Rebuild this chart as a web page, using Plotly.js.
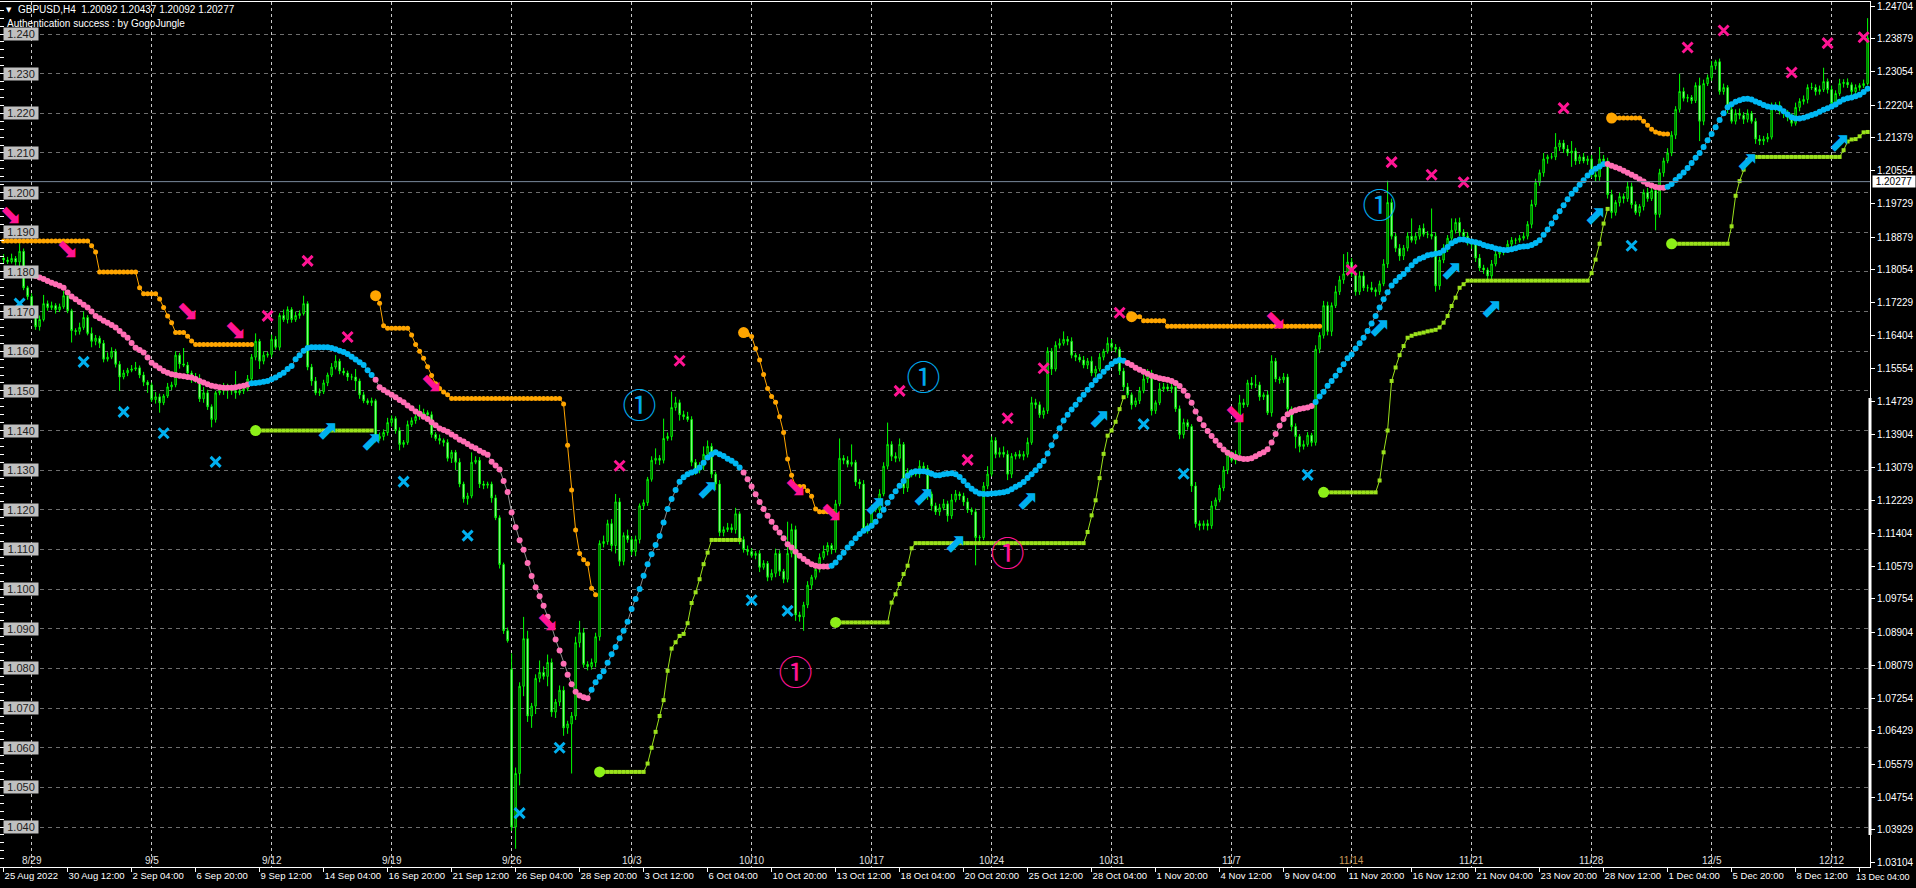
<!DOCTYPE html>
<html><head><meta charset="utf-8">
<script src="https://cdn.plot.ly/plotly-3.0.1.min.js"></script>
<style>html,body{margin:0;padding:0;background:#000;overflow:hidden}#chart{width:1916px;height:888px}</style>
</head><body><div id="chart"></div>
<script>
const FONT = 'Liberation Sans, Arial, sans-serif';
const PIP = 0.0001;

// ---- price bars (H4), index 0 = 25 Aug 2022 20:00 ----
const firstOpen = 1.1835;
const gapOpens = {127: 1.0798};
const barClose = [
1.1830,1.1826,1.1834,1.1825,1.1852,1.1760,1.1738,1.1705,1.1662,1.1680,
1.1720,1.1710,1.1715,1.1705,1.1712,1.1740,1.1702,1.1652,1.1650,1.1660,
1.1685,1.1645,1.1625,1.1633,1.1620,1.1580,1.1585,1.1600,1.1567,1.1535,
1.1545,1.1552,1.1555,1.1558,1.1540,1.1522,1.1515,1.1478,1.1485,1.1470,
1.1487,1.1510,1.1515,1.1590,1.1568,1.1565,1.1545,1.1535,1.1530,1.1480,
1.1495,1.1460,1.1428,1.1495,1.1500,1.1505,1.1510,1.1500,1.1495,1.1500,
1.1505,1.1530,1.1585,1.1625,1.1575,1.1590,1.1592,1.1630,1.1610,1.1690,
1.1680,1.1705,1.1680,1.1690,1.1695,1.1720,1.1560,1.1525,1.1495,1.1498,
1.1520,1.1540,1.1560,1.1575,1.1550,1.1545,1.1535,1.1535,1.1525,1.1490,
1.1475,1.1470,1.1475,1.1380,1.1385,1.1395,1.1420,1.1430,1.1400,1.1365,
1.1370,1.1415,1.1425,1.1435,1.1440,1.1445,1.1440,1.1390,1.1380,1.1375,
1.1370,1.1330,1.1345,1.1320,1.1265,1.1228,1.1235,1.1320,1.1325,1.1265,
1.1262,1.1265,1.1230,1.1180,1.1062,1.0895,1.0870,1.0400,1.0535,1.0755,
1.0875,1.0680,1.0705,1.0775,1.0790,1.0780,1.0815,1.0690,1.0715,1.0745,
1.0650,1.0660,1.0680,1.0865,1.0890,1.0810,1.0805,1.0815,1.0880,1.1115,
1.1120,1.1165,1.1110,1.1220,1.1070,1.1135,1.1125,1.1095,1.1125,1.1210,
1.1218,1.1277,1.1325,1.1330,1.1325,1.1380,1.1385,1.1458,1.1470,1.1440,
1.1435,1.1428,1.1320,1.1300,1.1310,1.1340,1.1360,1.1290,1.1265,1.1143,
1.1150,1.1155,1.1150,1.1190,1.1125,1.1100,1.1095,1.1085,1.1090,1.1055,
1.1065,1.1030,1.1040,1.1090,1.1045,1.1025,1.1090,1.1150,1.0935,1.0930,
1.0960,1.1010,1.1030,1.1050,1.1080,1.1095,1.1110,1.1100,1.1215,1.1330,
1.1325,1.1315,1.1320,1.1270,1.1265,1.1150,1.1160,1.1205,1.1200,1.1240,
1.1310,1.1365,1.1335,1.1330,1.1365,1.1255,1.1295,1.1290,1.1290,1.1310,
1.1305,1.1240,1.1210,1.1195,1.1205,1.1215,1.1185,1.1225,1.1240,1.1235,
1.1220,1.1200,1.1195,1.1130,1.1130,1.1260,1.1290,1.1375,1.1340,1.1345,
1.1340,1.1290,1.1335,1.1340,1.1335,1.1340,1.1370,1.1470,1.1465,1.1440,
1.1450,1.1600,1.1555,1.1615,1.1620,1.1630,1.1625,1.1590,1.1585,1.1578,
1.1565,1.1575,1.1545,1.1555,1.1585,1.1600,1.1620,1.1610,1.1605,1.1550,
1.1510,1.1490,1.1465,1.1475,1.1500,1.1530,1.1545,1.1450,1.1470,1.1505,
1.1510,1.1505,1.1510,1.1455,1.1390,1.1420,1.1410,1.1260,1.1165,1.1160,
1.1165,1.1160,1.1210,1.1225,1.1255,1.1300,1.1340,1.1325,1.1340,1.1470,
1.1465,1.1520,1.1515,1.1515,1.1485,1.1490,1.1445,1.1575,1.1530,1.1528,
1.1535,1.1455,1.1410,1.1385,1.1360,1.1365,1.1388,1.1370,1.1605,1.1640,
1.1715,1.1650,1.1715,1.1750,1.1780,1.1795,1.1825,1.1795,1.1750,1.1790,
1.1760,1.1760,1.1755,1.1750,1.1770,1.1820,1.1975,1.1890,1.1860,1.1840,
1.1860,1.1890,1.1880,1.1890,1.1910,1.1895,1.1895,1.1890,1.1765,1.1830,
1.1860,1.1885,1.1905,1.1925,1.1900,1.1890,1.1875,1.1870,1.1835,1.1810,
1.1805,1.1790,1.1820,1.1845,1.1850,1.1855,1.1870,1.1880,1.1880,1.1885,
1.1890,1.1920,1.1970,1.2025,1.2050,1.2085,1.2090,1.2090,1.2115,1.2125,
1.2110,1.2100,1.2105,1.2080,1.2090,1.2080,1.2085,1.2045,1.2040,1.2085,
1.2080,1.1995,1.1950,1.1975,1.1990,1.1985,1.2015,1.1970,1.1950,1.1965,
1.2000,1.1985,1.2005,1.1945,1.2050,1.2080,1.2100,1.2145,1.2210,1.2255,
1.2238,1.2240,1.2232,1.2270,1.2180,1.2275,1.2290,1.2320,1.2330,1.2255,
1.2265,1.2210,1.2180,1.2200,1.2195,1.2185,1.2200,1.2180,1.2135,1.2130,
1.2135,1.2140,1.2215,1.2220,1.2205,1.2200,1.2190,1.2175,1.2215,1.2230,
1.2235,1.2265,1.2265,1.2255,1.2260,1.2280,1.2260,1.2225,1.2250,1.2275,
1.2278,1.2272,1.2255,1.2265,1.2270,1.2275,1.2390];
// upper / lower wick length in pips
const wickUp = [
10,8,12,6,20,7,5,8,6,10, 22,8,10,6,8,12,6,5,6,12, 15,6,15,8,6,8,12,10,6,8, 8,6,10,15,6,8,5,6,12,8,
5,10,8,10,6,40,8,6,10,12, 15,8,6,5,10,15,8,6,50,8, 6,10,8,20,6,10,6,12,8,6, 15,8,6,10,8,20,6,8,10,8,
8,6,10,15,6,8,6,8,20,6, 8,6,8,5,10,8,12,8,6,8, 6,10,8,6,25,10,6,8,6,10, 5,8,6,6,10,6,8,25,10,8,
8,6,6,8,6,5,8,40,15,10, 55,20,8,10,30,15,20,10,8,12, 10,8,10,15,30,12,8,10,10,8, 15,10,12,20,10,8,15,8,10,6,
8,6,10,25,8,50,10,40,15,8, 10,12,8,8,10,20,15,8,6,10, 8,12,10,15,6,8,10,8,6,8, 8,6,10,12,8,6,80,15,10,8,
8,10,6,8,10,15,8,6,10,50, 8,10,45,6,8,10,6,8,10,12, 10,55,8,10,15,6,10,8,12,15, 10,8,6,8,10,12,8,15,10,6,
8,10,6,8,6,10,20,10,8,12, 15,10,8,6,10,8,12,15,10,8, 8,10,8,10,12,20,8,10,6,8, 10,8,12,8,10,6,15,10,8,6,
8,10,6,8,10,12,10,8,6,15, 10,8,12,6,8,10,8,6,10,8, 8,10,12,6,8,10,12,8,10,20, 10,8,15,25,8,6,10,15,8,6,
10,8,6,8,6,10,8,6,10,8, 12,10,8,15,10,50,25,10,8,12, 10,8,15,6,8,12,55,10,8,10, 8,10,45,10,8,12,8,65,10,8,
10,8,30,10,12,8,10,6,8,10, 8,6,10,8,12,6,10,8,6,8, 10,8,12,10,8,15,6,10,35,8, 8,10,25,8,6,10,8,10,8,30,
10,8,12,6,10,8,12,10,8,6, 8,12,10,15,10,8,12,10,8,45, 10,8,6,8,20,10,8,12,5,8, 10,6,8,10,12,8,10,6,8,10,
8,10,12,8,10,6,8,10,12,8, 10,8,12,8,10,35,8,10,8,12, 8,10,6,8,6,10,50];
const wickDown = [
8,6,5,9,10,6,8,10,8,10, 5,8,6,10,6,5,6,30,10,8, 6,5,15,10,12,8,6,5,8,35, 6,8,5,5,8,10,20,6,10,25,
6,5,8,6,12,5,6,15,10,8, 10,8,20,8,6,10,25,10,15,6, 8,6,10,8,20,8,6,8,6,8, 6,10,8,6,8,5,8,12,6,8,
6,8,5,6,8,6,10,8,25,10, 6,5,8,10,6,10,8,10,8,15, 8,6,6,8,8,6,12,8,6,10, 10,8,12,20,8,10,15,6,5,10,
10,8,12,6,10,8,5,10,55,30, 25,15,30,20,10,8,25,12,15,10, 20,15,125,10,12,8,10,8,12,10, 10,8,15,20,12,10,8,10,12,10,
10,8,6,10,12,8,6,10,8,15, 8,6,10,12,8,10,12,10,15,10, 10,6,8,10,12,8,10,6,10,12, 6,10,8,10,12,10,8,10,15,12,
35,8,10,6,8,6,10,12,8,6, 10,8,6,10,12,6,10,8,6,10, 6,8,12,10,8,15,10,8,6,10, 10,15,12,8,10,6,15,8,6,10,
10,8,8,70,15,6,8,6,10,8, 8,15,10,8,6,10,8,6,10,8, 10,8,15,6,8,6,10,8,10,6, 8,10,8,10,6,8,6,10,8,10,
10,8,12,6,8,6,10,12,8,6, 8,6,10,8,12,10,8,15,10,12, 10,12,8,10,6,8,10,6,10,8, 8,6,10,8,10,8,6,10,8,10,
8,10,12,30,15,8,6,10,8,10, 8,10,12,6,8,10,6,8,10,8, 8,10,6,12,8,6,10,8,10,12, 10,8,6,10,8,6,10,8,15,10,
8,10,6,8,10,6,8,12,10,8, 10,12,8,6,10,8,6,8,10,6, 6,8,10,6,8,10,12,6,8,10, 10,8,35,10,8,6,10,8,12,10,
8,10,15,8,10,12,8,10,6,10, 10,8,6,40,8,10,6,8,10,8, 8,10,8,6,50,10,6,8,10,8, 8,10,6,8,10,12,8,6,12,10,
10,8,6,10,8,12,10,8,6,10, 8,10,6,10,8,6,10,12,8,6, 10,8,10,6,8,6,5];

// ---- dotted moving average (pink falling / blue rising) ----
const maStart = 8;
const maValues = [
1.1790,1.1786,1.1782,1.1777,1.1773,1.1769,1.1765,1.1760,1.1748,1.1738,
1.1731,1.1724,1.1717,1.1710,1.1700,1.1689,1.1683,1.1677,1.1672,1.1666,
1.1660,1.1651,1.1642,1.1634,1.1621,1.1609,1.1603,1.1597,1.1584,1.1571,
1.1564,1.1557,1.1550,1.1546,1.1542,1.1540,1.1538,1.1537,1.1535,1.1534,
1.1530,1.1525,1.1521,1.1517,1.1513,1.1511,1.1509,1.1508,1.1508,1.1508,
1.1509,1.1511,1.1513,1.1516,1.1519,1.1520,1.1521,1.1523,1.1525,1.1529,
1.1534,1.1540,1.1546,1.1555,1.1563,1.1580,1.1590,1.1601,1.1608,1.1610,
1.1610,1.1610,1.1610,1.1610,1.1608,1.1605,1.1601,1.1598,1.1593,1.1586,
1.1579,1.1572,1.1565,1.1552,1.1540,1.1528,1.1509,1.1502,1.1496,1.1490,
1.1484,1.1477,1.1471,1.1463,1.1456,1.1448,1.1442,1.1435,1.1429,1.1421,
1.1413,1.1405,1.1401,1.1397,1.1390,1.1384,1.1377,1.1372,1.1366,1.1360,
1.1355,1.1349,1.1344,1.1339,1.1321,1.1312,1.1302,1.1273,1.1245,1.1193,
1.1156,1.1123,1.1099,1.1066,1.1033,1.1005,1.0982,1.0958,1.0930,1.0906,
1.0873,1.0845,1.0812,1.0784,1.0760,1.0741,1.0732,1.0727,1.0725,1.0746,
1.0765,1.0779,1.0793,1.0814,1.0836,1.0854,1.0876,1.0895,1.0918,1.0950,
1.0975,1.1000,1.1034,1.1063,1.1088,1.1111,1.1134,1.1168,1.1202,1.1227,
1.1250,1.1271,1.1282,1.1290,1.1294,1.1298,1.1307,1.1319,1.1332,1.1340,
1.1345,1.1340,1.1336,1.1329,1.1324,1.1317,1.1307,1.1294,1.1277,1.1259,
1.1239,1.1220,1.1202,1.1185,1.1170,1.1155,1.1143,1.1128,1.1113,1.1105,
1.1094,1.1084,1.1076,1.1069,1.1063,1.1059,1.1057,1.1057,1.1057,1.1059,
1.1067,1.1080,1.1092,1.1105,1.1116,1.1128,1.1139,1.1147,1.1153,1.1160,
1.1170,1.1185,1.1200,1.1218,1.1233,1.1247,1.1261,1.1273,1.1286,1.1294,
1.1297,1.1297,1.1297,1.1295,1.1291,1.1287,1.1287,1.1290,1.1291,1.1292,
1.1290,1.1283,1.1273,1.1262,1.1253,1.1246,1.1241,1.1240,1.1240,1.1241,
1.1242,1.1243,1.1244,1.1247,1.1252,1.1258,1.1263,1.1270,1.1280,1.1290,
1.1300,1.1311,1.1323,1.1342,1.1363,1.1385,1.1406,1.1425,1.1440,1.1453,
1.1465,1.1478,1.1490,1.1503,1.1515,1.1527,1.1537,1.1548,1.1558,1.1568,
1.1575,1.1578,1.1576,1.1570,1.1565,1.1558,1.1553,1.1548,1.1543,1.1538,
1.1535,1.1532,1.1530,1.1528,1.1525,1.1520,1.1512,1.1500,1.1488,1.1470,
1.1448,1.1429,1.1413,1.1399,1.1386,1.1374,1.1363,1.1352,1.1344,1.1338,
1.1333,1.1330,1.1328,1.1328,1.1330,1.1335,1.1341,1.1345,1.1353,1.1370,
1.1391,1.1412,1.1429,1.1441,1.1447,1.1451,1.1454,1.1456,1.1458,1.1462,
1.1472,1.1486,1.1498,1.1513,1.1525,1.1538,1.1552,1.1567,1.1582,1.1592,
1.1607,1.1620,1.1634,1.1651,1.1670,1.1689,1.1710,1.1731,1.1749,1.1766,
1.1777,1.1787,1.1795,1.1806,1.1817,1.1827,1.1833,1.1837,1.1842,1.1844,
1.1846,1.1848,1.1854,1.1863,1.1872,1.1878,1.1882,1.1882,1.1879,1.1877,
1.1875,1.1872,1.1868,1.1865,1.1863,1.1859,1.1857,1.1855,1.1855,1.1857,
1.1860,1.1863,1.1864,1.1865,1.1868,1.1873,1.1880,1.1894,1.1907,1.1922,
1.1938,1.1953,1.1968,1.1983,1.1997,1.2008,1.2020,1.2031,1.2043,1.2052,
1.2060,1.2066,1.2072,1.2072,1.2068,1.2064,1.2060,1.2055,1.2050,1.2045,
1.2040,1.2034,1.2028,1.2022,1.2018,1.2014,1.2012,1.2012,1.2015,1.2022,
1.2032,1.2041,1.2051,1.2062,1.2075,1.2088,1.2100,1.2115,1.2132,1.2148,
1.2165,1.2183,1.2200,1.2215,1.2223,1.2229,1.2233,1.2236,1.2237,1.2235,
1.2230,1.2226,1.2221,1.2217,1.2215,1.2215,1.2213,1.2205,1.2197,1.2190,
1.2187,1.2187,1.2189,1.2192,1.2196,1.2199,1.2204,1.2209,1.2213,1.2217,
1.2222,1.2229,1.2235,1.2238,1.2240,1.2243,1.2247,1.2254,1.2262];
const maColorRuns = [[8,'pink'],[62,'blue'],[93,'pink'],[147,'blue'],[185,'pink'],[207,'blue'],[281,'pink'],[328,'blue'],[401,'pink'],[416,'blue']];

// ---- orange trailing line (sell side) ----
const orangeSegStart = [0, 93, 185, 282, 402];
const orangeSegVals = [
 [1.1878,1.1878,1.1878,1.1878,1.1878,1.1878,1.1878,1.1878,1.1878,1.1878,
  1.1878,1.1878,1.1878,1.1878,1.1878,1.1878,1.1878,1.1878,1.1878,1.1878,
  1.1878,1.1878,1.1866,1.1850,1.1800,1.1800,1.1800,1.1800,1.1800,1.1800,
  1.1800,1.1800,1.1800,1.1800,1.1760,1.1745,1.1745,1.1745,1.1745,1.1732,
  1.1710,1.1689,1.1672,1.1647,1.1647,1.1647,1.1638,1.1626,1.1617,1.1617,
  1.1617,1.1617,1.1617,1.1617,1.1617,1.1617,1.1617,1.1617,1.1617,1.1617,
  1.1617,1.1617,1.1617],
 [1.1740,1.1721,1.1664,1.1658,1.1658,1.1658,1.1658,1.1658,1.1658,1.1641,
  1.1617,1.1600,1.1582,1.1561,1.1539,1.1518,1.1506,1.1497,1.1490,1.1481,
  1.1481,1.1481,1.1481,1.1481,1.1481,1.1481,1.1481,1.1481,1.1481,1.1481,
  1.1481,1.1481,1.1481,1.1481,1.1481,1.1481,1.1481,1.1481,1.1481,1.1481,
  1.1481,1.1481,1.1481,1.1481,1.1481,1.1481,1.1481,1.1467,1.1363,1.1250,
  1.1149,1.1090,1.1074,1.1064,1.1002,1.0986],
 [1.1647,1.1642,1.1637,1.1607,1.1578,1.1541,1.1506,1.1486,1.1471,1.1435,
  1.1395,1.1328,1.1287,1.1259,1.1259,1.1259,1.1248,1.1234,1.1202,1.1195,
  1.1195,1.1195,1.1195],
 [1.1687,1.1687,1.1687,1.1677,1.1677,1.1677,1.1677,1.1677,1.1677,1.1663,
  1.1663,1.1663,1.1663,1.1663,1.1663,1.1663,1.1663,1.1663,1.1663,1.1663,
  1.1663,1.1663,1.1663,1.1663,1.1663,1.1663,1.1663,1.1663,1.1663,1.1663,
  1.1663,1.1663,1.1663,1.1663,1.1663,1.1663,1.1663,1.1663,1.1663,1.1663,
  1.1663,1.1663,1.1663,1.1663,1.1663,1.1663,1.1663,1.1663],
 [1.2188,1.2188,1.2188,1.2188,1.2188,1.2188,1.2188,1.2188,1.2180,1.2170,
  1.2160,1.2153,1.2150,1.2148,1.2148]
];
// ---- green trailing line (buy side) ----
const greenSegStart = [63, 149, 208, 330, 417];
const greenSegVals = [
 [1.1400,1.1400,1.1400,1.1400,1.1400,1.1400,1.1400,1.1400,1.1400,1.1400,
  1.1400,1.1400,1.1400,1.1400,1.1400,1.1400,1.1400,1.1400,1.1400,1.1400,
  1.1400,1.1400,1.1400,1.1400,1.1400,1.1400,1.1400,1.1400,1.1400,1.1400],
 [1.0539,1.0539,1.0539,1.0539,1.0539,1.0539,1.0539,1.0539,1.0539,1.0539,
  1.0539,1.0539,1.0560,1.0600,1.0640,1.0680,1.0720,1.0794,1.0850,1.0866,
  1.0882,1.0887,1.0914,1.0965,1.0992,1.1025,1.1063,1.1092,1.1124,1.1124,
  1.1124,1.1124,1.1124,1.1124,1.1124,1.1124],
 [1.0916,1.0916,1.0916,1.0916,1.0916,1.0916,1.0916,1.0916,1.0916,1.0916,
  1.0916,1.0916,1.0916,1.0916,1.0966,1.0987,1.1013,1.1038,1.1059,1.1103,
  1.1116,1.1116,1.1116,1.1116,1.1116,1.1116,1.1116,1.1116,1.1116,1.1116,
  1.1116,1.1116,1.1116,1.1116,1.1116,1.1116,1.1116,1.1116,1.1116,1.1116,
  1.1116,1.1116,1.1116,1.1116,1.1116,1.1116,1.1116,1.1116,1.1116,1.1116,
  1.1116,1.1116,1.1116,1.1116,1.1116,1.1116,1.1116,1.1116,1.1116,1.1116,
  1.1116,1.1116,1.1116,1.1144,1.1186,1.1224,1.1280,1.1341,1.1387,1.1400,
  1.1422,1.1454,1.1484],
 [1.1244,1.1244,1.1244,1.1244,1.1244,1.1244,1.1244,1.1244,1.1244,1.1244,
  1.1244,1.1244,1.1244,1.1244,1.1274,1.1345,1.1400,1.1525,1.1559,1.1590,
  1.1613,1.1634,1.1639,1.1643,1.1645,1.1647,1.1650,1.1652,1.1654,1.1660,
  1.1672,1.1689,1.1714,1.1735,1.1760,1.1769,1.1778,1.1778,1.1778,1.1778,
  1.1778,1.1778,1.1778,1.1778,1.1778,1.1778,1.1778,1.1778,1.1778,1.1778,
  1.1778,1.1778,1.1778,1.1778,1.1778,1.1778,1.1778,1.1778,1.1778,1.1778,
  1.1778,1.1778,1.1778,1.1778,1.1778,1.1778,1.1778,1.1797,1.1831,1.1871,
  1.1922,1.1959],
 [1.1871,1.1871,1.1871,1.1871,1.1871,1.1871,1.1871,1.1871,1.1871,1.1871,
  1.1871,1.1871,1.1871,1.1871,1.1871,1.1915,1.1992,1.2029,1.2058,1.2083,
  1.2090,1.2090,1.2090,1.2090,1.2090,1.2090,1.2090,1.2090,1.2090,1.2090,
  1.2090,1.2090,1.2090,1.2090,1.2090,1.2090,1.2090,1.2090,1.2090,1.2090,
  1.2090,1.2090,1.2090,1.2107,1.2129,1.2134,1.2135,1.2142,1.2152,1.2153]
];

// ---- signals ----
const pinkArrowX = [1.8, 16, 46, 58, 107, 136, 198, 207, 308, 318];
const pinkArrowY = [1.1938, 1.1853, 1.1697, 1.1647, 1.1514, 1.0911, 1.1252, 1.1189, 1.1435, 1.1672];
const blueArrowX = [81, 92, 176, 218, 230, 238, 256, 274, 344, 362, 372, 398, 436, 459];
const blueArrowY = [1.1395, 1.1368, 1.1246, 1.1207, 1.1230, 1.1110, 1.1219, 1.1425, 1.1656, 1.1798, 1.1704, 1.1939, 1.2074, 1.2123];
const blueCrossX = [4, 20, 30, 40, 53, 100, 116, 129, 139, 187, 196, 285, 295, 326, 407];
const blueCrossY = [1.1720, 1.1573, 1.1447, 1.1393, 1.1321, 1.1271, 1.1135, 1.0435, 1.0600, 1.0972, 1.0945, 1.1416, 1.1291, 1.1288, 1.1866];
const pinkCrossX = [66, 76, 86, 154, 169, 224, 241, 251, 260, 279, 337, 347, 357, 365, 390, 421, 430, 447, 456, 465];
const pinkCrossY = [1.1689, 1.1828, 1.1636, 1.1311, 1.1576, 1.1500, 1.1326, 1.1431, 1.1557, 1.1697, 1.1805, 1.2077, 1.2045, 1.2026, 1.2213, 1.2366, 1.2409, 1.2303, 1.2377, 1.2392];
const circleX = [159, 230, 344, 198, 251];
const circleY = [1.1454, 1.1523, 1.1958, 1.0779, 1.1080];
const circleKind = ['blue', 'blue', 'blue', 'pink', 'pink'];

// ---- axes / labels ----
const lastPrice = 1.20277;
const headerText = 'GBPUSD,H4  1.20092 1.20437 1.20092 1.20277';
const subText = 'Authentication success : by GogoJungle';
const dateTickIdx = [0,16,32,48,64,80,96,112,128,144,160,176,192,208,224,240,256,272,288,304,320,336,352,368,384,400,416,432,448,464];
const dateTickText = ['25 Aug 2022','30 Aug 12:00','2 Sep 04:00','6 Sep 20:00','9 Sep 12:00','14 Sep 04:00','16 Sep 20:00','21 Sep 12:00','26 Sep 04:00','28 Sep 20:00','3 Oct 12:00','6 Oct 04:00','10 Oct 20:00','13 Oct 12:00','18 Oct 04:00','20 Oct 20:00','25 Oct 12:00','28 Oct 04:00','1 Nov 20:00','4 Nov 12:00','9 Nov 04:00','11 Nov 20:00','16 Nov 12:00','21 Nov 04:00','23 Nov 20:00','28 Nov 12:00','1 Dec 04:00','5 Dec 20:00','8 Dec 12:00','13 Dec 04:00'];
const weekIdx = [7,37,67,97,127,157,187,217,247,277,307,337,367,397,427,457];
const weekText = ['8/29','9/5','9/12','9/19','9/26','10/3','10/10','10/17','10/24','10/31','11/7','11/14','11/21','11/28','12/5','12/12'];
const priceTicks = [1.24704,1.23879,1.23054,1.22204,1.21379,1.20554,1.19729,1.18879,1.18054,1.17229,1.16404,1.15554,1.14729,1.13904,1.13079,1.12229,1.11404,1.10579,1.09754,1.08904,1.08079,1.07254,1.06429,1.05579,1.04754,1.03929,1.03104];
const levelTicks = [1.040,1.050,1.060,1.070,1.080,1.090,1.100,1.110,1.120,1.130,1.140,1.150,1.160,1.170,1.180,1.190,1.200,1.210,1.220,1.230,1.240];

const COL = {pink:'#ff6eb4', blue:'#00b8f4', pinkSig:'#ff1493', blueSig:'#00b0f0', orange:'#ffa500', green:'#9be21c', lime:'#00ff00'};

// ---- build ----
const n = barClose.length;
const idx = barClose.map((_, i) => i);
const barOpen = barClose.map((c, i) => gapOpens[i] !== undefined ? gapOpens[i] : (i === 0 ? firstOpen : barClose[i - 1]));
const barHigh = barClose.map((c, i) => Math.max(barOpen[i], c) + wickUp[i] * PIP);
const barLow = barClose.map((c, i) => Math.min(barOpen[i], c) - wickDown[i] * PIP);

const maX = maValues.map((_, k) => maStart + k);
const maCol = maX.map(i => { let c = 'pink'; for (const r of maColorRuns) if (i >= r[0]) c = r[1]; return COL[c]; });

function segArray(starts, vals) {
  const y = new Array(n).fill(null);
  starts.forEach((s, k) => vals[k].forEach((v, j) => { if (s + j < n) y[s + j] = v; }));
  return y;
}
const orangeY = segArray(orangeSegStart, orangeSegVals);
const greenY = segArray(greenSegStart, greenSegVals);
const orangeDotX = orangeSegStart.filter(s => s > 0), orangeDotY = orangeDotX.map(s => orangeY[s]);
const greenDotX = greenSegStart.filter(s => s > 0), greenDotY = greenDotX.map(s => greenY[s]);

const yMin = 1.24858 - 867 / 3965, yMax = 1.24858 - 2 / 3965;

const traces = [
  {type:'candlestick', x: idx, open: barOpen, high: barHigh, low: barLow, close: barClose,
   increasing:{line:{color:COL.lime, width:1}, fillcolor:'#000000'},
   decreasing:{line:{color:COL.lime, width:1}, fillcolor:'#ffffff'},
   whiskerwidth:0, hoverinfo:'none'},
  {type:'scatter', mode:'lines+markers', x: maX, y: maValues,
   line:{color:'#8c8c8c', width:1}, marker:{color: maCol, size:6}, hoverinfo:'skip'},
  {type:'scatter', mode:'lines+markers', x: idx, y: orangeY, connectgaps:false,
   line:{color:COL.orange, width:1}, marker:{color:COL.orange, size:5}, hoverinfo:'skip'},
  {type:'scatter', mode:'markers', x: orangeDotX, y: orangeDotY, marker:{color:COL.orange, size:11}, hoverinfo:'skip'},
  {type:'scatter', mode:'lines+markers', x: idx, y: greenY, connectgaps:false,
   line:{color:COL.green, width:1}, marker:{color:COL.green, size:4, symbol:'square'}, hoverinfo:'skip'},
  {type:'scatter', mode:'markers', x: greenDotX, y: greenDotY, marker:{color:'#8cf018', size:11}, hoverinfo:'skip'},
  {type:'scatter', mode:'markers', x: pinkCrossX, y: pinkCrossY,
   marker:{symbol:'x-thin', size:10, line:{color:COL.pinkSig, width:3}}, hoverinfo:'skip'},
  {type:'scatter', mode:'markers', x: blueCrossX, y: blueCrossY,
   marker:{symbol:'x-thin', size:10, line:{color:COL.blueSig, width:3}}, hoverinfo:'skip'},
  {type:'scatter', mode:'text', x: pinkArrowX, y: pinkArrowY, text: pinkArrowX.map(() => '⬊'),
   textfont:{family:'DejaVu Sans', size:27, color:COL.pinkSig}, textposition:'middle center', hoverinfo:'skip'},
  {type:'scatter', mode:'text', x: blueArrowX, y: blueArrowY, text: blueArrowX.map(() => '⬈'),
   textfont:{family:'DejaVu Sans', size:27, color:COL.blueSig}, textposition:'middle center', hoverinfo:'skip'},
  {type:'scatter', mode:'text', x: circleX, y: circleY, text: circleX.map(() => '①'),
   textfont:{family:'Noto Sans CJK JP', size:34, color: circleKind.map(k => k === 'blue' ? '#00a8ec' : '#ff1493')},
   textposition:'middle center', hoverinfo:'skip'},
  {type:'scatter', mode:'markers', x:[idx[0]], y:[barClose[0]], yaxis:'y2', marker:{opacity:0}, hoverinfo:'skip'}
];

const py = y => (867 - y) / 865; // pixel row -> paper
const lastTick = dateTickText.length - 1;
const axisTickText = dateTickText.map((t, k) => k === lastTick ? '' : t);
const annotations = [];
levelTicks.forEach(v => annotations.push({xref:'paper', x:0, xanchor:'left', xshift:3, yref:'y', y:v, yanchor:'middle',
  text: v.toFixed(3), showarrow:false, bgcolor:'#c0c0c0', width:34, height:12, borderpad:0,
  font:{family:FONT, size:11, color:'#202020'}}));
weekIdx.forEach((w, k) => annotations.push({xref:'x', x:w, xanchor:'center', yref:'paper', y:py(860), yanchor:'middle',
  text: weekText[k], showarrow:false, font:{family:FONT, size:10, color: weekText[k] === '11/14' ? '#c89a5a' : '#e0e0e0'}}));
annotations.push({xref:'paper', x:1, xanchor:'right', xshift:42, yref:'paper', y:py(877), yanchor:'middle',
  text: dateTickText[lastTick], showarrow:false, font:{family:FONT, size:9, color:'#ffffff'}});
annotations.push({xref:'paper', x:0, xanchor:'left', xshift:4, yref:'paper', y:py(10), yanchor:'middle', text:'▼', showarrow:false, font:{family:'DejaVu Sans', size:7, color:'#ffffff'}});
annotations.push({xref:'paper', x:0, xanchor:'left', xshift:16, yref:'paper', y:py(10), yanchor:'middle', text: headerText, showarrow:false, font:{family:FONT, size:10, color:'#ffffff'}});
annotations.push({xref:'paper', x:0, xanchor:'left', xshift:5, yref:'paper', y:py(24), yanchor:'middle', text: subText, showarrow:false, font:{family:FONT, size:10, color:'#ffffff'}});
annotations.push({xref:'paper', x:1, xanchor:'left', xshift:2, yref:'y', y:lastPrice, yanchor:'middle', text: lastPrice.toFixed(5), showarrow:false,
  bgcolor:'#ffffff', width:42, height:11, borderpad:0, font:{family:FONT, size:10, color:'#000000'}});

const layout = {
  width:1916, height:888,
  margin:{l:0, r:46, t:2, b:21, pad:0},
  paper_bgcolor:'#000000', plot_bgcolor:'#000000',
  showlegend:false, boxgap:0.5, hovermode:false,
  font:{family:FONT, color:'#ffffff', size:10},
  xaxis:{type:'linear', range:[-0.9, 466.6], fixedrange:true, rangeslider:{visible:false},
    tickmode:'array', tickvals: dateTickIdx, ticktext: axisTickText, tickangle:0, automargin:false,
    ticks:'outside', ticklen:4, tickwidth:1, tickcolor:'#ffffff', ticklabelposition:'outside right', ticklabeloverflow:'allow',
    tickfont:{family:FONT, size:9.5, color:'#ffffff'},
    showgrid:false, zeroline:false, showline:true, linecolor:'#ffffff', linewidth:1, mirror:true,
    minor:{tickmode:'array', tickvals: weekIdx, ticks:'', showgrid:true, gridcolor:'#c8c8c8', gridwidth:1, griddash:'3px,3px'}},
  yaxis:{side:'right', range:[yMin, yMax], fixedrange:true, automargin:false,
    tickmode:'array', tickvals: priceTicks, ticktext: priceTicks.map(v => v.toFixed(5)),
    ticks:'outside', ticklen:4, tickcolor:'#ffffff', tickfont:{family:FONT, size:10, color:'#ffffff'},
    showgrid:false, zeroline:false, showline:true, linecolor:'#ffffff', linewidth:1},
  yaxis2:{overlaying:'y', side:'left', range:[yMin, yMax], fixedrange:true,
    tickmode:'array', tickvals: levelTicks, showticklabels:false,
    ticks:'inside', ticklen:6, tickcolor:'#ffffff',
    showgrid:true, gridcolor:'#6e6e6e', gridwidth:1, griddash:'4px,4px',
    zeroline:false, showline:true, linecolor:'#ffffff', linewidth:1,
    minor:{tick0:1.04, dtick:0.002, ticks:'inside', ticklen:4, tickcolor:'#ffffff', showgrid:false}},
  shapes:[
    {type:'line', xref:'paper', x0:0, x1:1, yref:'y', y0:lastPrice, y1:lastPrice, line:{color:'#7a8a9c', width:1}},
    {type:'line', xref:'paper', x0:1, x1:1, yref:'paper', y0:py(835), y1:py(398), line:{color:'#ffffff', width:3}}
  ],
  annotations: annotations
};

Plotly.newPlot('chart', traces, layout, {staticPlot:true, displayModeBar:false});
</script></body></html>
